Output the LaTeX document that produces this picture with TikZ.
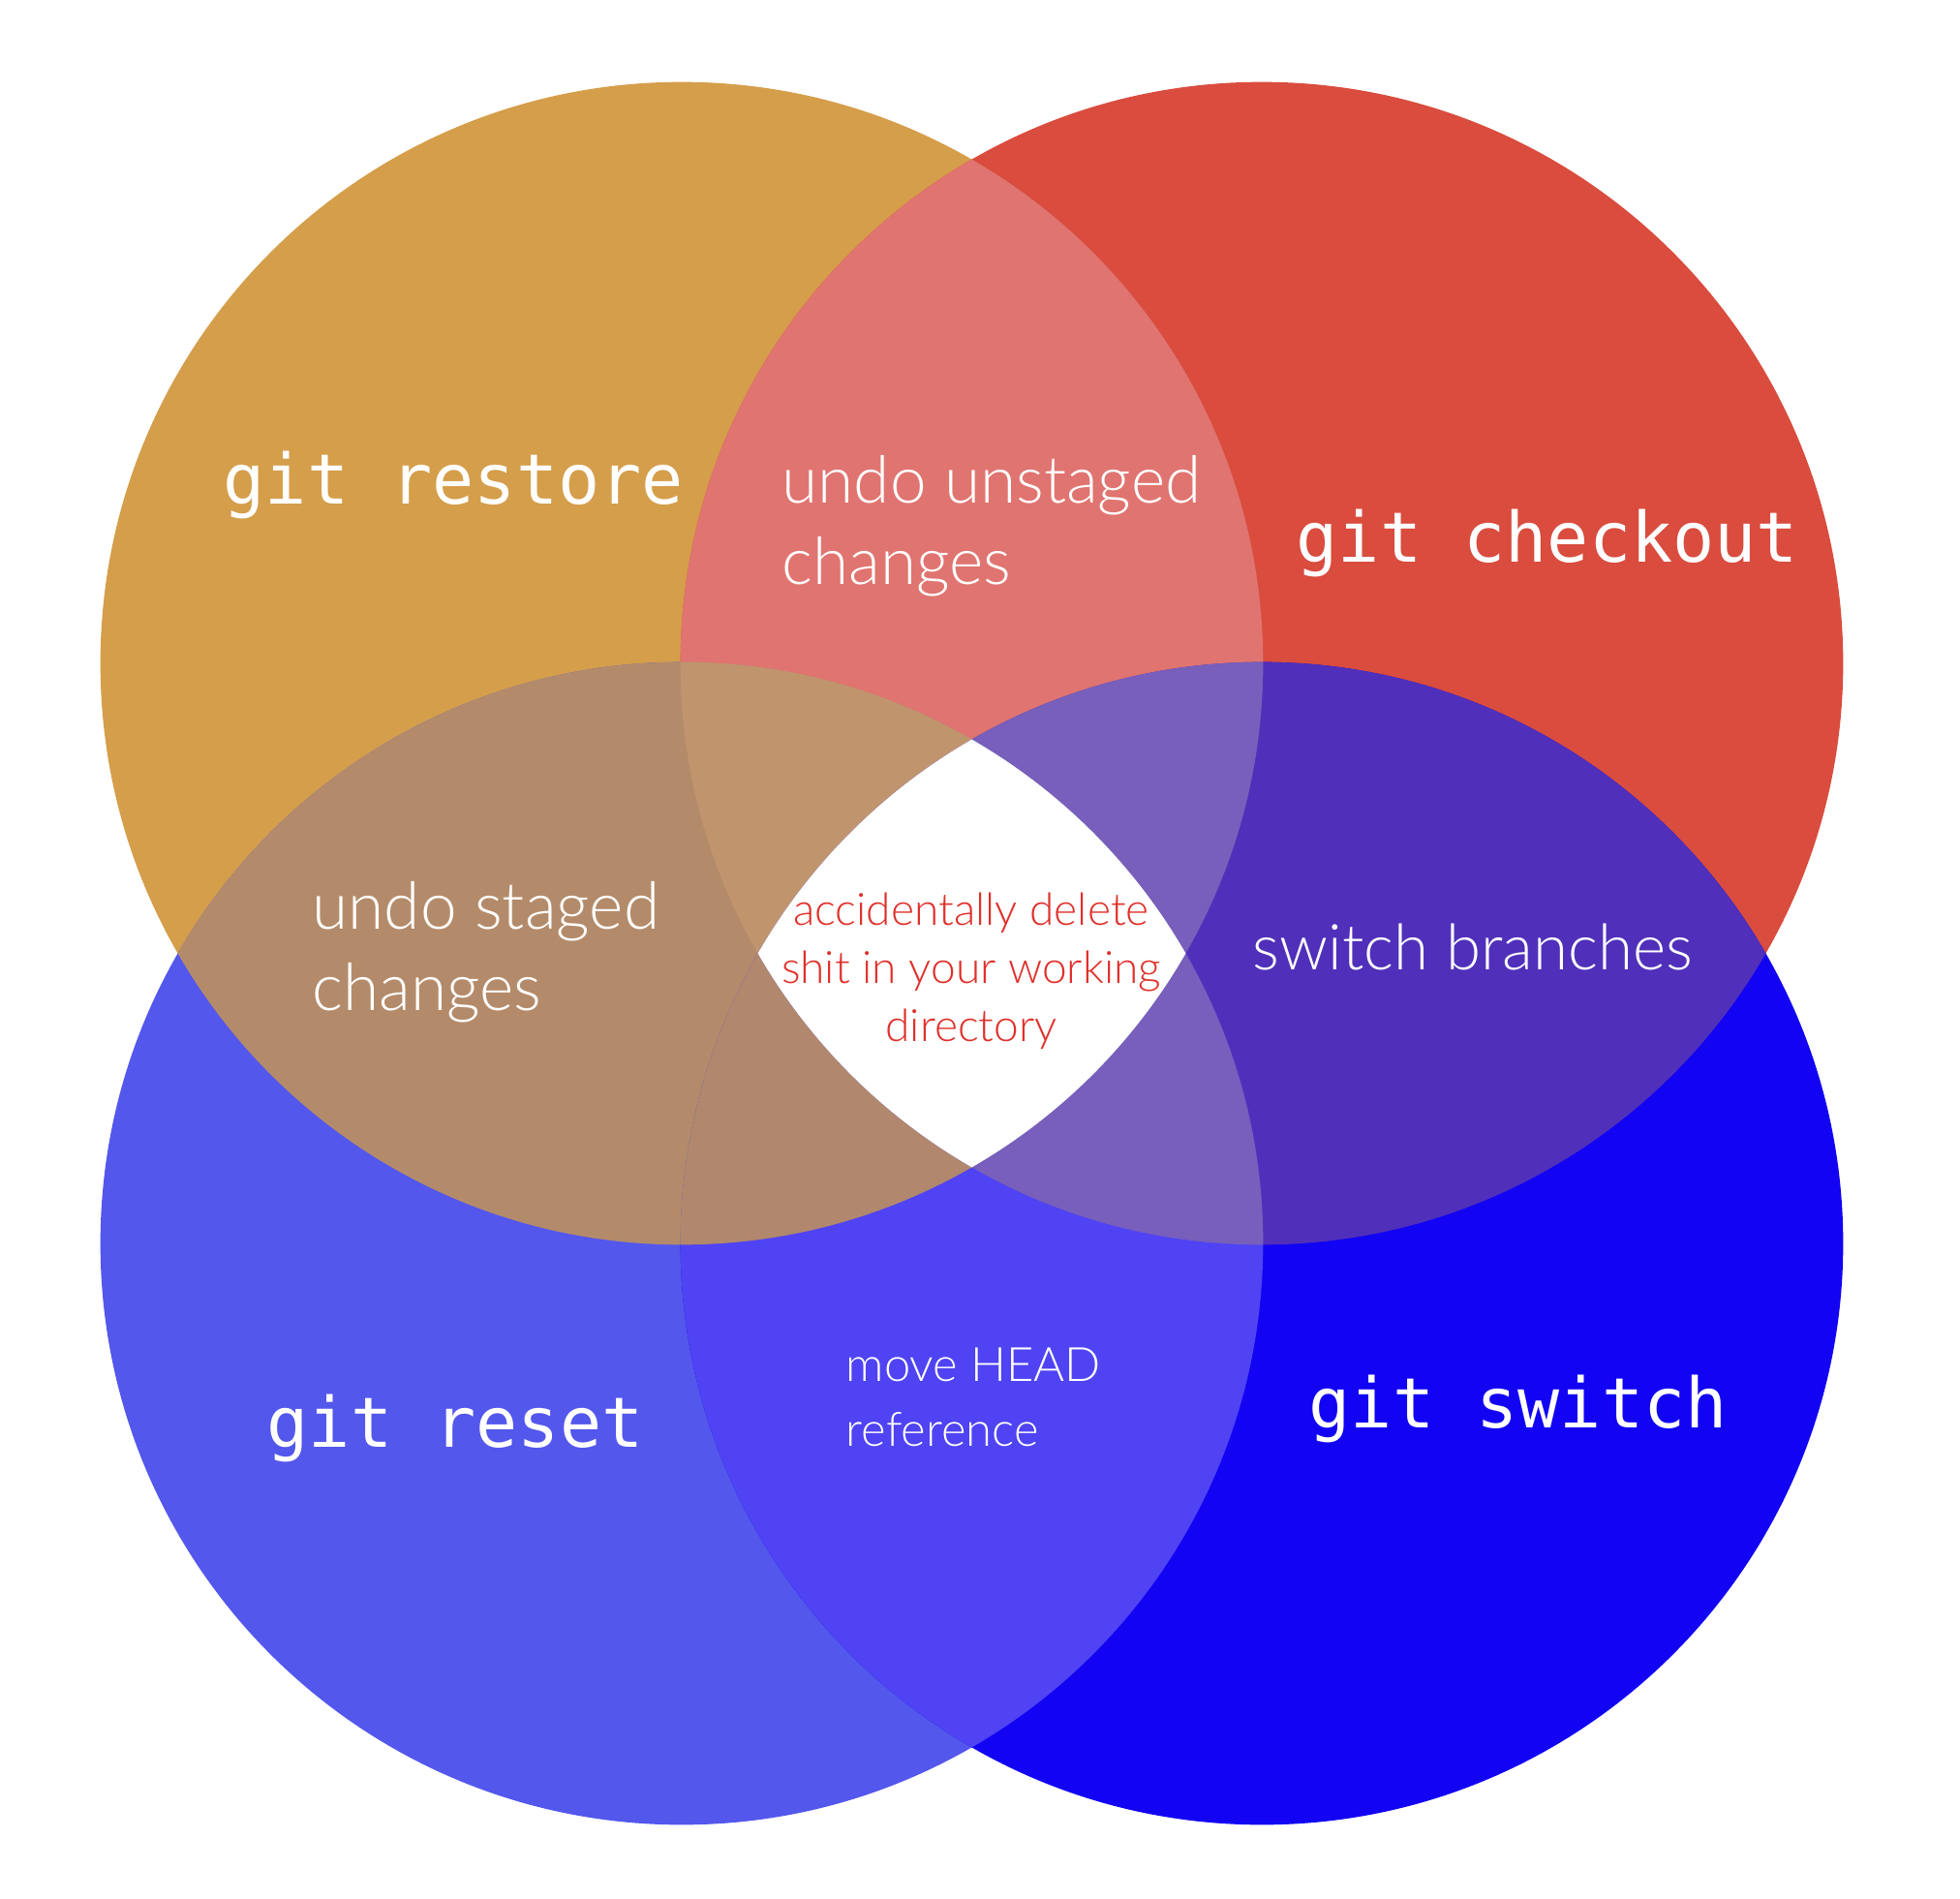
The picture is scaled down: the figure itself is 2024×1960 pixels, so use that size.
\documentclass[tikz,border=0pt]{standalone}
\usepackage{fontspec}
\newfontfamily\monofont{DejaVu Sans Mono}
\newfontfamily\thinfont{Lato Light}
\usepackage{tikz}
\definecolor{restore}{HTML}{D59E4A}
\definecolor{checkout}{HTML}{D94C3E}
\definecolor{reset}{HTML}{5357EC}
\definecolor{switch}{HTML}{1203F2}
\definecolor{restorecheckout}{HTML}{E07470}
\definecolor{restorereset}{HTML}{B48B6A}
\definecolor{checkoutswitch}{HTML}{5030BA}
\definecolor{resetswitch}{HTML}{4F43F3}
\definecolor{upperleft}{HTML}{C0956E}
\definecolor{lowerleft}{HTML}{B1876D}
\definecolor{rightside}{HTML}{775FBB}
\definecolor{warn}{HTML}{E0302A}

\begin{document}
\begin{tikzpicture}[
            x = 0.01cm, y = -0.01cm, % one unit per pixel, y going down
            set/.style = {radius = 6cm},
            cmd/.style = {
                text = white,
                font = \monofont\fontsize{20.4}{24}\selectfont,
                anchor = base west,
                inner sep = 0pt
            },
            note/.style = {
                text = white,
                font = \thinfont\fontsize{19.2}{23.8}\selectfont,
                align = left,
                anchor = base west, % base of the last line
                inner sep = 0pt
            }
        ]

        \useasboundingbox (0,0) rectangle (2024,1960);

	% centres of the four sets
        \coordinate (RS) at (704,685);
        \coordinate (CO) at (1303,685);
        \coordinate (RE) at (704,1284);
        \coordinate (SW) at (1303,1284);

        % single sets
        \fill[restore] (RS) circle[set];
        \fill[checkout] (CO) circle[set];
        \fill[reset] (RE) circle[set];
        \fill[switch] (SW) circle[set];

        % pairs
        \begin{scope}
            \clip (RS) circle[set];
            \fill[restorecheckout] (CO) circle[set];
            \fill[restorereset] (RE) circle[set];
        \end{scope}
        \begin{scope}
            \clip (SW) circle[set];
            \fill[checkoutswitch] (CO) circle[set];
            \fill[resetswitch] (RE) circle[set];
        \end{scope}

        % triples
        \begin{scope}
            \clip (RS) circle[set];
            \clip (RE) circle[set];
            \fill[upperleft] (CO) circle[set];
            \fill[lowerleft] (SW) circle[set];
        \end{scope}
        \begin{scope}
            \clip (CO) circle[set];
            \clip (SW) circle[set];
            \fill[rightside] (RS) circle[set];
            \fill[rightside] (RE) circle[set];
        \end{scope}

        % all four
        \begin{scope}
            \clip (RS) circle[set];
            \clip (CO) circle[set];
            \clip (RE) circle[set];
            \fill[white] (SW) circle[set];
        \end{scope}

         % labels
         \node[cmd] (restoreL) at (230,520) {git restore};
         \node[cmd] (checkoutL) at (1338,580) {git checkout};
         \node[cmd] (resetL) at (275,1494) {git reset};
         \node[cmd] (switchL) at (1351,1474) {git switch};

         \node[note] (unstaged) at (807,603) {undo unstaged\\changes};
         \node[note] (staged) at (322,1043) {undo staged\\changes};
         \node[note, font = \thinfont\fontsize{18.6}{23.8}\selectfont] (branches) at (1293,1001) {switch branches};
         \node[note, font = \thinfont\fontsize{13.9}{18.8}\selectfont] (head) at (873,1493) {move HEAD\\reference};
         \node[note, text = warn, align = center, anchor = base,
               font = \thinfont\fontsize{13.1}{17}\selectfont] (oops) at (1003,1075)
               {accidentally delete\\shit in your working\\directory};

  \end{tikzpicture}
\end{document}
